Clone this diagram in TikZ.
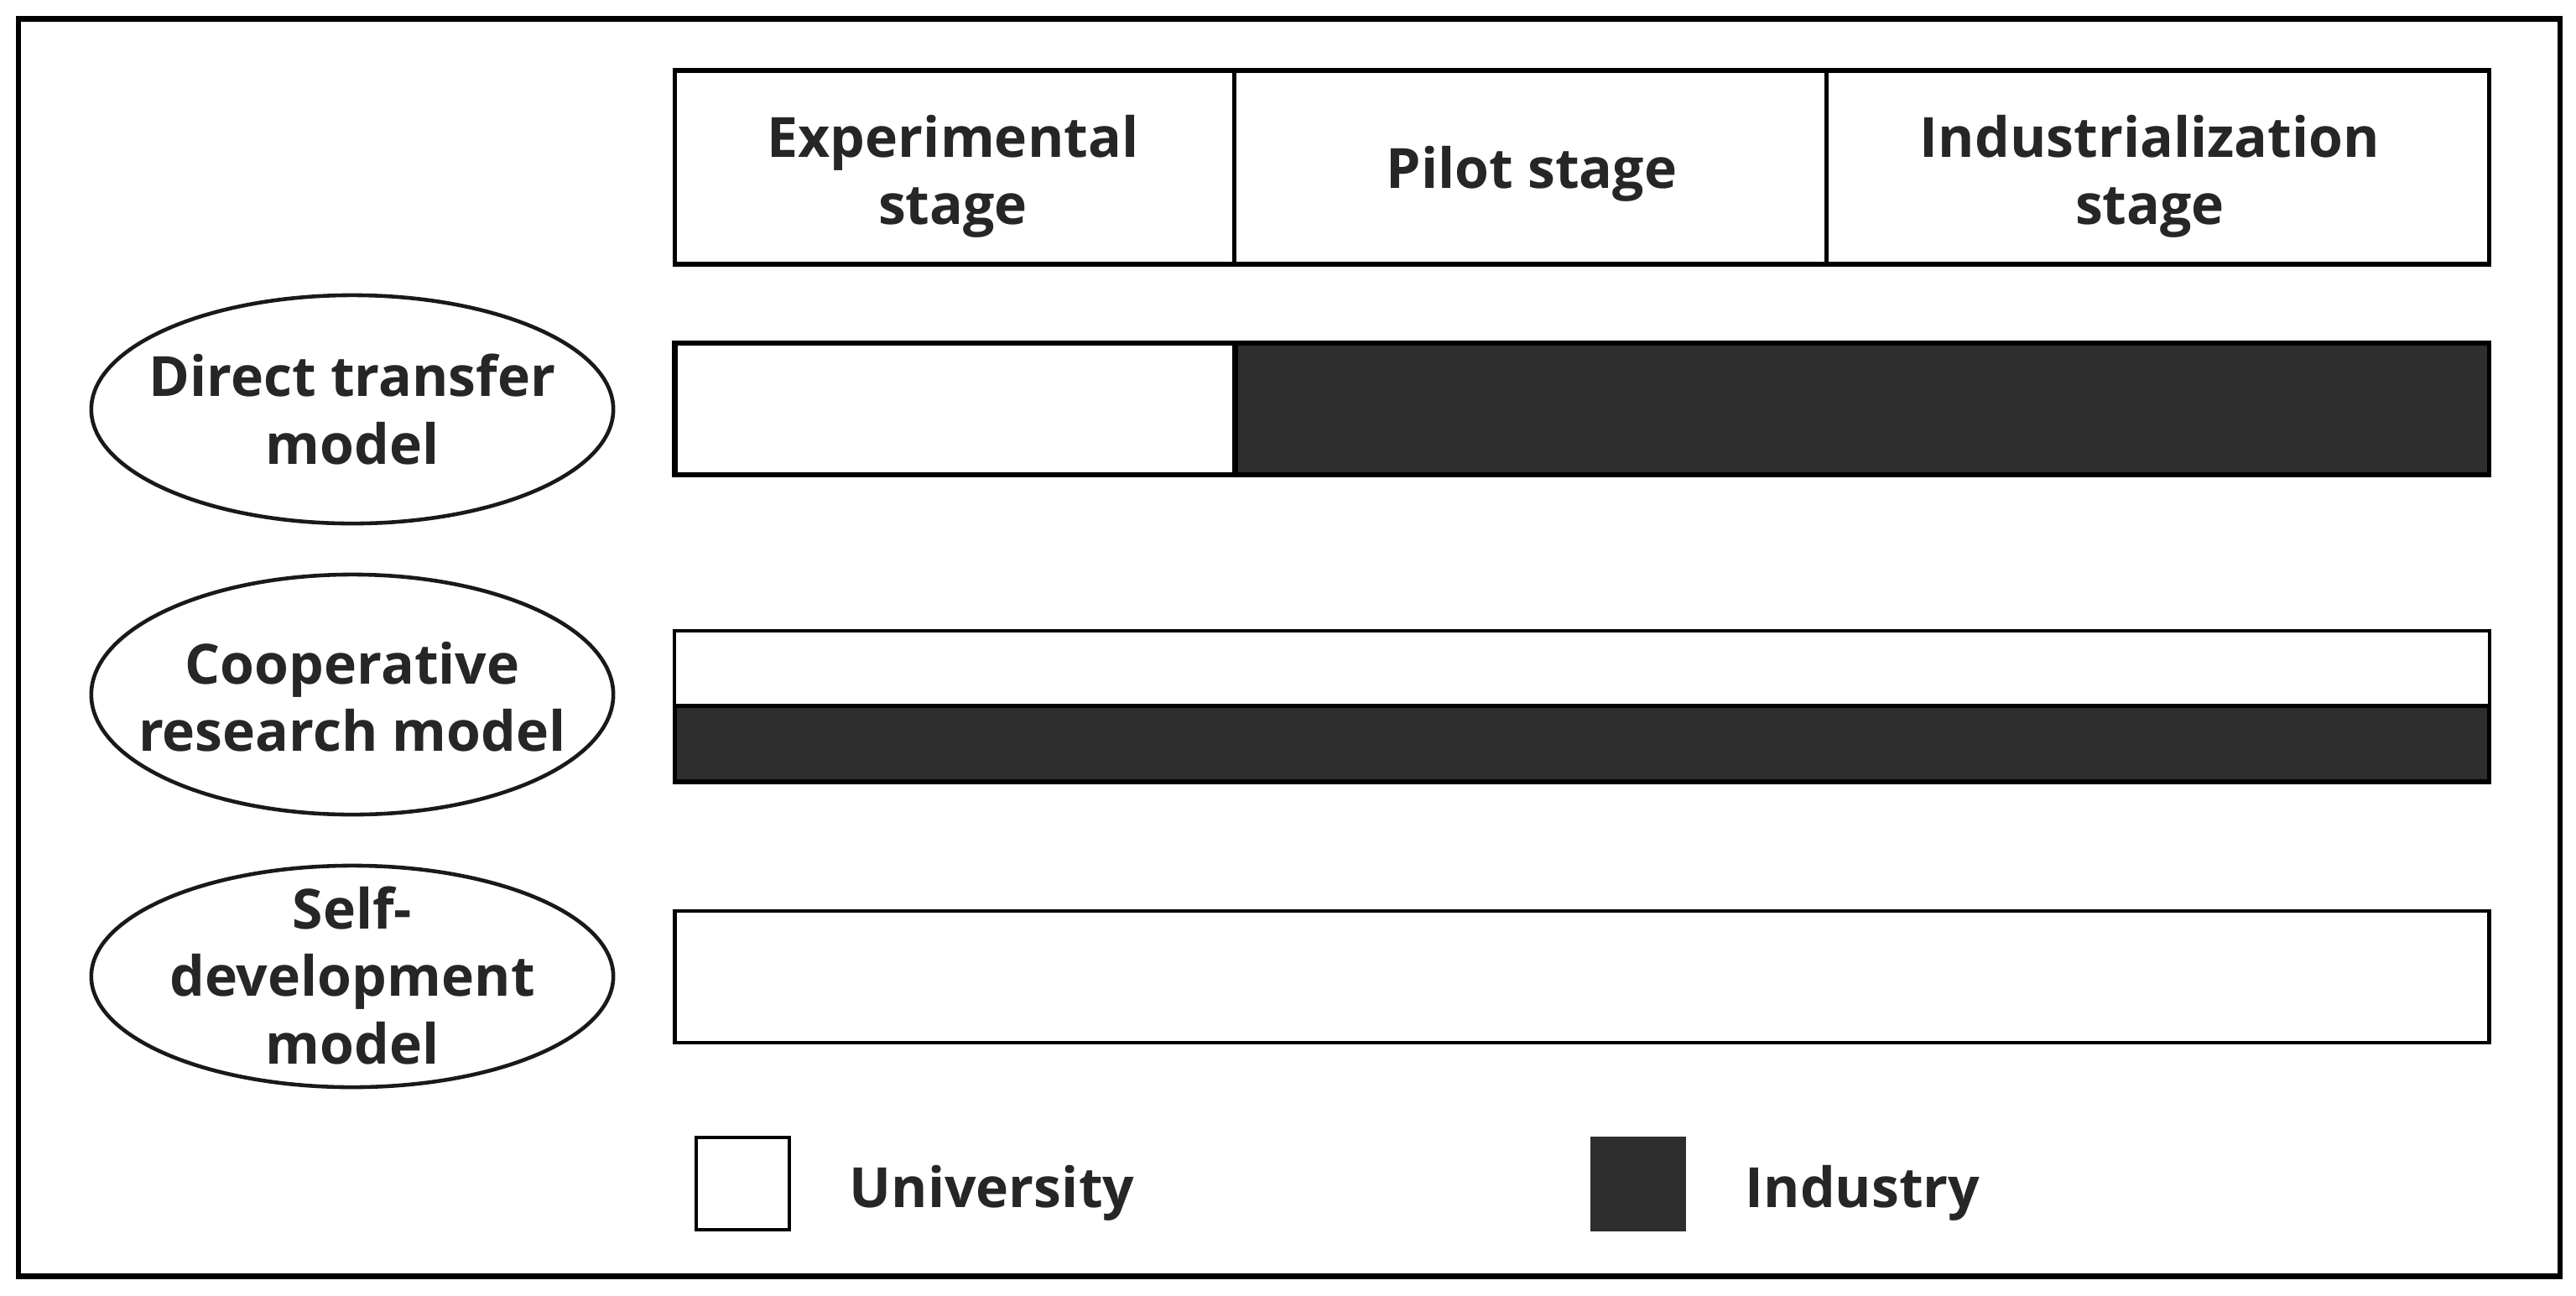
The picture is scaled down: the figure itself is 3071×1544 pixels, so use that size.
\documentclass[tikz,border=0pt]{standalone}
\usepackage{fontspec}
\usetikzlibrary{shapes.geometric}
\setmainfont{Open Sans}
\definecolor{txt}{HTML}{262626}
\definecolor{darkfill}{HTML}{2E2E2E}
\begin{document}
\begin{tikzpicture}[x=0.01cm,y=-0.01cm,
  lbl/.style={font=\fontsize{18.8}{22.8}\selectfont\bfseries, text=txt, align=center, inner sep=0pt},
  cell/.style={draw=black, line width=1.5pt, rectangle, inner sep=0pt, fill=white},
  oval/.style={draw=black!90, line width=1.3pt, ellipse, inner sep=0pt, minimum width=6.22cm},
  whitebar/.style={draw=black, line width=1.5pt, rectangle, inner sep=0pt, fill=white},
  darkbar/.style={draw=black, line width=1.5pt, rectangle, inner sep=0pt, fill=darkfill}
]
\useasboundingbox (0,0) rectangle (3071,1544);
\fill[white] (0,0) rectangle (3071,1544);
% outer frame
\node[draw=black, line width=1.8pt, rectangle, inner sep=0pt, minimum width=30.28cm, minimum height=14.98cm] (frame) at (1537,772) {};

% header cells
\node[cell, minimum width=6.67cm, minimum height=2.31cm] (h1) at (1138.5,199.5) {};
\node[cell, minimum width=7.06cm, minimum height=2.31cm] (h2) at (1825,199.5) {};
\node[cell, minimum width=7.89cm, minimum height=2.31cm] (h3) at (2572.5,199.5) {};
\node[lbl] (h1t) at (1136,210) {Experimental\\stage};
\node[lbl] (h2t) at (1826,207) {Pilot stage};
\node[lbl] (h3t) at (2563,210) {Industrialization\\stage};

% model ellipses
\node[oval, minimum height=2.72cm] (e1) at (420,488) {};
\node[oval, minimum height=2.86cm] (e2) at (420,828) {};
\node[oval, minimum height=2.64cm] (e3) at (420,1164) {};
\node[lbl] (e1t) at (420,488) {Direct transfer\\model};
\node[lbl] (e2t) at (420,831) {Cooperative\\research model};
\node[lbl] (e3t) at (420,1163) {Self-\\development\\model};

% bar 1: direct transfer
\node[darkbar, minimum width=14.95cm, minimum height=1.57cm] (b1d) at (2219.5,487.5) {};
\node[whitebar, line width=1.9pt, minimum width=6.67cm, minimum height=1.57cm] (b1w) at (1138.5,487.5) {};

% bar 2: cooperative research
\node[darkbar, minimum width=21.62cm, minimum height=0.91cm] (b2d) at (1886,886.5) {};
\node[whitebar, line width=1.2pt, minimum width=21.62cm, minimum height=0.89cm] (b2w) at (1886,796.5) {};

% bar 3: self-development
\node[whitebar, line width=1.3pt, minimum width=21.62cm, minimum height=1.57cm] (b3) at (1886,1164.5) {};

% legend
\node[whitebar, line width=1.3pt, minimum width=1.11cm, minimum height=1.10cm] (lu) at (885.5,1411) {};
\node[lbl, anchor=base west] (lut) at (1012,1439) {University};
\node[rectangle, fill=darkfill, inner sep=0pt, minimum width=1.14cm, minimum height=1.13cm] (li) at (1953,1411.5) {};
\node[lbl, anchor=base west] (lit) at (2080,1439) {Industry};
\end{tikzpicture}
\end{document}
